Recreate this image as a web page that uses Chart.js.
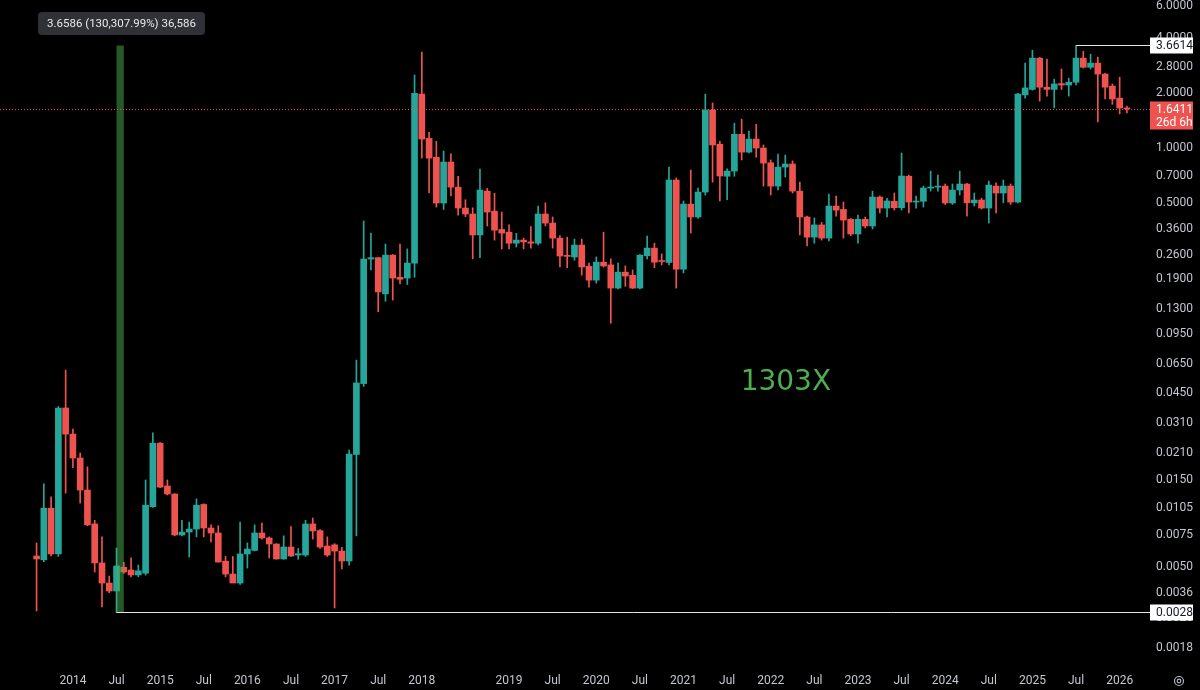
<!DOCTYPE html>
<html><head><meta charset="utf-8">
<script src="https://cdn.jsdelivr.net/npm/chart.js@4.4.1/dist/chart.umd.min.js"></script>
<style>html,body{margin:0;padding:0;background:#000;}canvas{display:block;}</style>
</head><body>
<canvas id="c" width="1200" height="690"></canvas>
<script>
// ---- Data (monthly candles, Aug 2013 .. Feb 2026) ----
const firstMonth = [2013, 8];
const openP = [
 0.00573,0.00546,0.0105,0.00588,0.0373,
 0.0268,0.0198,0.0132,0.0086,0.00525,0.00407,0.00368,0.00497,0.0048,0.00451,0.00461,0.0107,
 0.0239,0.0139,0.01256,0.00748,0.00776,0.00806,0.0110,0.00817,0.00767,0.00537,0.00456,0.00407,
 0.00588,0.00615,0.00767,0.0072,0.00667,0.00552,0.00642,0.0058,0.0058,0.0086,0.0079,0.0065,
 0.0066,0.0061,0.00538,0.0207,0.0508,0.2455,0.25,0.158,0.258,0.195,0.193,0.233,
 1.98,1.13,0.89,0.499,0.838,0.61,0.468,0.434,0.333,0.58,0.45,0.357,
 0.345,0.30,0.312,0.305,0.30,0.434,0.387,0.32,0.256,0.252,0.293,0.224,
 0.188,0.236,0.228,0.17,0.208,0.20,0.17,0.256,0.282,0.241,0.235,0.667,
 0.216,0.492,0.418,0.573,1.62,1.05,0.70,0.747,1.19,0.95,1.12,1.0,
 0.83,0.618,0.786,0.817,0.58,0.418,0.324,0.378,0.32,0.48,0.46,0.406,
 0.337,0.406,0.373,0.538,0.468,0.51,0.47,0.70,0.505,0.51,0.603,0.61,
 0.618,0.499,0.588,0.634,0.50,0.518,0.468,0.618,0.566,0.618,0.505,1.96,
 2.1,3.12,2.16,2.1,2.26,2.22,2.30,3.12,2.78,2.93,2.55,2.19,
 1.88,1.66];
const highP = [
 0.00676,0.0143,0.0121,0.0380,0.0603,
 0.0286,0.0211,0.0177,0.0090,0.0073,0.00445,0.00634,0.0053,0.0056,0.00512,0.0150,0.0272,
 0.0241,0.0150,0.0126,0.0090,0.0088,0.0118,0.0111,0.0085,0.0084,0.0057,0.0057,0.0088,
 0.00676,0.0085,0.0087,0.0073,0.0067,0.0074,0.00832,0.0063,0.0090,0.00927,0.0080,0.0073,
 0.0067,0.0064,0.0219,0.0684,0.397,0.341,0.25,0.297,0.26,0.297,0.279,2.52,
 3.37,1.22,1.09,0.963,0.93,0.70,0.52,0.47,0.767,0.60,0.565,0.445,
 0.378,0.34,0.32,0.37,0.48,0.50,0.418,0.33,0.324,0.316,0.316,0.233,
 0.252,0.345,0.246,0.233,0.225,0.214,0.26,0.328,0.30,0.262,0.787,0.685,
 0.512,0.757,0.603,1.98,1.77,1.09,0.77,1.37,1.44,1.24,1.35,1.04,
 0.86,0.927,0.915,0.85,0.65,0.423,0.413,0.39,0.559,0.545,0.505,0.41,
 0.428,0.418,0.58,0.545,0.53,0.566,0.939,0.71,0.545,0.618,0.747,0.711,
 0.635,0.635,0.747,0.64,0.566,0.53,0.659,0.643,0.667,0.635,2.0,2.93,
 3.45,3.15,3.08,2.39,2.72,2.42,3.6614,3.4,3.28,3.16,2.57,2.25,
 2.45,1.70];
const lowP = [
 0.00286,0.00533,0.00573,0.0057,0.0127,
 0.0175,0.0112,0.0084,0.00468,0.00301,0.0036,0.002806,0.0046,0.0044,0.0044,0.0045,0.0106,
 0.0136,0.0124,0.0074,0.0074,0.00566,0.0073,0.0073,0.00684,0.0053,0.0044,0.0041,0.0040,
 0.00492,0.0061,0.0071,0.00559,0.0055,0.0055,0.0057,0.0055,0.0057,0.0071,0.0063,0.0057,
 0.00297,0.00486,0.0051,0.0074,0.049,0.214,0.126,0.144,0.146,0.179,0.178,0.195,
 0.881,0.566,0.474,0.46,0.545,0.428,0.42,0.246,0.25,0.373,0.312,0.279,
 0.279,0.286,0.279,0.282,0.294,0.373,0.282,0.222,0.22,0.242,0.20,0.172,
 0.181,0.222,0.109,0.168,0.174,0.169,0.168,0.246,0.22,0.228,0.228,0.17,
 0.206,0.341,0.41,0.552,0.65,0.512,0.52,0.70,0.86,0.94,0.89,0.618,
 0.552,0.588,0.693,0.566,0.333,0.29,0.30,0.312,0.309,0.423,0.32,0.33,
 0.30,0.364,0.359,0.44,0.418,0.456,0.456,0.44,0.468,0.474,0.58,0.58,
 0.49,0.49,0.552,0.423,0.48,0.462,0.387,0.44,0.50,0.49,0.50,1.88,
 2.08,1.81,1.93,1.66,2.1,1.93,2.22,2.75,2.72,1.39,1.86,1.74,
 1.54,1.56];
const closeP = [
 0.00552,0.0105,0.00588,0.0373,0.0268,
 0.0198,0.0132,0.00849,0.00525,0.00407,0.00368,0.00505,0.00468,0.00451,0.00475,0.0109,0.0239,
 0.0137,0.01256,0.00748,0.00776,0.00806,0.0109,0.00817,0.00767,0.00531,0.00456,0.00407,0.00588,
 0.00626,0.00767,0.0072,0.00667,0.00552,0.00642,0.00573,0.0059,0.00859,0.00787,0.00642,0.0058,
 0.0061,0.00538,0.0208,0.0512,0.2455,0.25,0.162,0.258,0.193,0.19,0.2335,2.0,
 1.12,0.88,0.499,0.838,0.61,0.468,0.434,0.333,0.588,0.445,0.354,0.341,
 0.30,0.312,0.305,0.30,0.434,0.387,0.32,0.255,0.254,0.293,0.222,0.188,
 0.236,0.225,0.17,0.208,0.198,0.17,0.258,0.282,0.236,0.238,0.667,0.216,
 0.492,0.418,0.573,1.62,1.04,0.702,0.747,1.19,0.95,1.12,1.0,0.827,
 0.618,0.786,0.817,0.58,0.418,0.324,0.378,0.32,0.48,0.456,0.402,0.337,
 0.406,0.373,0.538,0.468,0.512,0.47,0.702,0.505,0.51,0.603,0.61,0.618,
 0.499,0.588,0.634,0.50,0.518,0.468,0.626,0.566,0.618,0.505,1.98,2.14,
 3.12,2.16,2.1,2.25,2.22,2.30,3.12,2.78,2.93,2.55,2.16,1.86,
 1.66,1.6411];

const months = openP.map((_, i) => {
  const m = firstMonth[1] - 1 + i;
  return (firstMonth[0] + Math.floor(m / 12)) + '-' + String(m % 12 + 1).padStart(2, '0');
});

const xTickLabels = {
 '2014-01':'2014','2014-07':'Jul','2015-01':'2015','2015-07':'Jul','2016-01':'2016','2016-07':'Jul',
 '2017-01':'2017','2017-07':'Jul','2018-01':'2018','2019-01':'2019','2019-07':'Jul',
 '2020-01':'2020','2020-07':'Jul','2021-01':'2021','2021-07':'Jul','2022-01':'2022','2022-07':'Jul',
 '2023-01':'2023','2023-07':'Jul','2024-01':'2024','2024-07':'Jul','2025-01':'2025','2025-07':'Jul','2026-01':'2026'
};
const yTickValues = [6,4,2.8,2,1.4,1,0.7,0.5,0.36,0.26,0.19,0.13,0.095,0.065,0.045,0.031,0.021,0.015,0.0105,0.0075,0.005,0.0036,0.0026,0.0018];

// annotations
const lastPrice = 1.6411, countdown = '26d 6h';
const highRay = 3.6614, highRayMonth = '2025-07';
const lowRay = 0.002806, lowRayLabel = '0.0028', lowRayMonth = '2014-07';
const measureFrom = 0.002806, measureTo = 3.6586, measureMonth = '2014-07';
const measureText = '3.6586 (130,307.99%) 36,586';
const noteText = '1303X', noteMonth = '2021-09', notePrice = 0.0515;

const UP = '#26a69a', DOWN = '#ef5350';
const isUp = closeP.map((c, i) => c >= openP[i]);
const colors = isUp.map(u => u ? UP : DOWN);
const AXIS_COLOR = '#c4c7cf';
const FONT_FAMILY = 'Roboto, "Liberation Sans", sans-serif';

const overlay = {
  id: 'overlay',
  beforeDraw(chart) {
    const c = chart.ctx; c.save(); c.fillStyle = '#000'; c.fillRect(0, 0, chart.width, chart.height); c.restore();
  },
  afterDraw(chart) {
    const c = chart.ctx, a = chart.chartArea, x = chart.scales.x, y = chart.scales.y;
    const boxL = a.right + 10, boxR = chart.width - 7;
    c.save();
    // measure band
    const mi = months.indexOf(measureMonth);
    const bx1 = x.getPixelForValue(mi), bx2 = x.getPixelForValue(mi + 1);
    const by1 = y.getPixelForValue(measureTo), by2 = y.getPixelForValue(measureFrom);
    c.fillStyle = 'rgba(76,175,80,0.5)';
    c.fillRect(bx1, by1, bx2 - bx1, by2 - by1);
    // last price dotted line
    const ly = Math.round(y.getPixelForValue(lastPrice)) + 0.5;
    c.strokeStyle = '#e0524f'; c.lineWidth = 1; c.setLineDash([1, 2]);
    c.beginPath(); c.moveTo(a.left, ly); c.lineTo(boxL, ly); c.stroke();
    c.setLineDash([]);
    // rays
    c.strokeStyle = '#e6e6e6';
    const hy = Math.round(y.getPixelForValue(highRay)) + 0.5;
    const hx = x.getPixelForValue(months.indexOf(highRayMonth));
    c.beginPath(); c.moveTo(hx, hy); c.lineTo(boxL, hy); c.stroke();
    const lyy = Math.round(y.getPixelForValue(lowRay)) + 0.5;
    const lx = x.getPixelForValue(months.indexOf(lowRayMonth));
    c.beginPath(); c.moveTo(lx, lyy); c.lineTo(boxL, lyy); c.stroke();
    // axis boxes
    c.font = '12px ' + FONT_FAMILY;
    c.textBaseline = 'middle'; c.textAlign = 'left';
    const whiteBox = (py, txt) => {
      c.fillStyle = '#ffffff'; c.fillRect(boxL, py - 8, boxR - boxL, 16);
      c.fillStyle = '#131722'; c.fillText(txt, boxL + 6, py + 0.5);
    };
    whiteBox(hy, highRay.toFixed(4));
    whiteBox(lyy, lowRayLabel);
    c.fillStyle = '#ef5350';
    c.fillRect(boxL, ly - 8, boxR - boxL, 28);
    c.fillStyle = '#ffffff';
    c.fillText(lastPrice.toFixed(4), boxL + 6, ly + 0.5);
    c.fillText(countdown, boxL + 6, ly + 13.5);
    // measure info box
    c.font = '11.5px ' + FONT_FAMILY;
    const tw = c.measureText(measureText).width;
    const tx = 38, ty = 12, th = 23, tww = tw + 18;
    c.fillStyle = 'rgba(50,52,58,0.95)';
    c.beginPath(); c.roundRect(tx, ty, tww, th, 4); c.fill();
    c.fillStyle = '#e8e8e8'; c.textAlign = 'center';
    c.fillText(measureText, tx + tww / 2, ty + th / 2 + 0.5);
    // note
    c.font = '28px "DejaVu Sans", sans-serif';
    c.fillStyle = '#4caf50'; c.textAlign = 'left';
    c.fillText(noteText, x.getPixelForValue(months.indexOf(noteMonth)) - 1, y.getPixelForValue(notePrice));
    // gear icon
    c.strokeStyle = '#b2b5be'; c.lineWidth = 1.2;
    c.beginPath(); c.arc(1179, 681, 4.5, 0, Math.PI * 2); c.stroke();
    c.beginPath(); c.arc(1179, 681, 1.8, 0, Math.PI * 2); c.stroke();
    c.restore();
  }
};

new Chart(document.getElementById('c'), {
  data: {
    datasets: [
      {type: 'bar', label: 'wick', order: 2, grouped: false, barThickness: 1,
       data: months.map((m, i) => ({x: i, y: [lowP[i], highP[i]]})),
       backgroundColor: colors, borderWidth: 0},
      {type: 'bar', label: 'body', order: 1, grouped: false, barThickness: 6, minBarLength: 1,
       data: months.map((m, i) => ({x: i, y: [openP[i], closeP[i]]})),
       backgroundColor: colors, borderWidth: 0}
    ]
  },
  options: {
    responsive: false, animation: false, devicePixelRatio: 1,
    layout: {padding: 0},
    plugins: {legend: {display: false}, tooltip: {enabled: false}},
    scales: {
      x: {
        type: 'linear', min: -5.03, max: 151.8, offset: false,
        grid: {display: false, drawTicks: false}, border: {display: false},
        ticks: {color: AXIS_COLOR, font: {family: FONT_FAMILY, size: 12}, padding: 7, autoSkip: false, maxRotation: 0,
          callback: v => xTickLabels[months[v]] || ''},
        afterBuildTicks: s => { s.ticks = Object.keys(xTickLabels).map(k => ({value: months.indexOf(k)})); },
        afterFit: s => { s.height = 23; }
      },
      y: {
        type: 'logarithmic', position: 'right', min: 0.001407, max: 6.505,
        grid: {display: false, drawTicks: true, tickLength: 16}, border: {display: false},
        ticks: {color: AXIS_COLOR, font: {family: FONT_FAMILY, size: 12, lineHeight: 0.01}, padding: 0, autoSkip: false,
          callback: v => Number(v).toFixed(4)},
        afterBuildTicks: s => { s.ticks = yTickValues.map(v => ({value: v})); },
        afterFit: s => { s.width = 60; }
      }
    }
  },
  plugins: [overlay]
});
</script>
</body></html>
